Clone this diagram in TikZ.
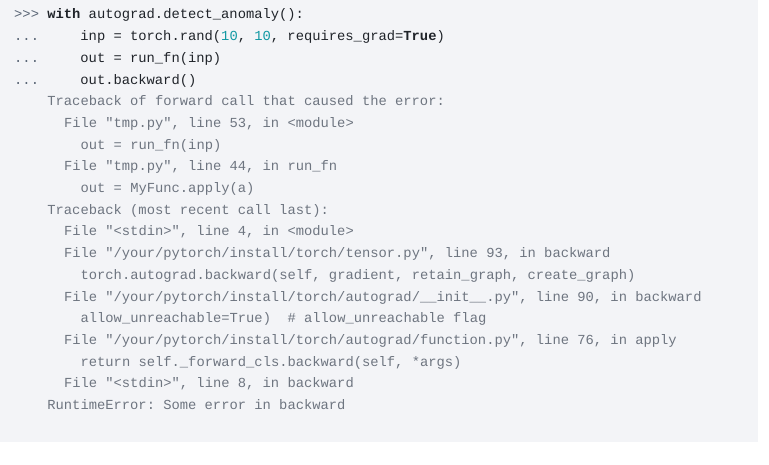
\documentclass[tikz,border=0pt]{standalone}
\usepackage{fontspec}
\setmonofont{Liberation Mono}
\definecolor{panel}{HTML}{F3F4F7}
\definecolor{ink}{HTML}{1F2329}
\definecolor{dim}{HTML}{6E7580}
\definecolor{prompt}{HTML}{5A6676}
\definecolor{num}{HTML}{1098A3}
\begin{document}
\begin{tikzpicture}[x=1pt,y=1pt]
    \tikzset{code/.style = {anchor=base west,inner sep=0pt,font=\ttfamily\fontsize{13.8}{16}\selectfont,text=ink}}
    \tikzset{outtext/.style = {code,text=dim}}
    \useasboundingbox (0,0) rectangle (769,464);
    \fill[panel] (0,22) rectangle (758,464);
    \node[code] (l1) at (14,445) {\textcolor{prompt}{>>>} \textbf{with} autograd.detect\_anomaly():};
    \node[code] (l2) at (14,423.3) {\textcolor{prompt}{...}\ \ \ \ \ inp = torch.rand(\textcolor{num}{10}, \textcolor{num}{10}, requires\_grad=\textbf{True})};
    \node[code] (l3) at (14,401.6) {\textcolor{prompt}{...}\ \ \ \ \ out = run\_fn(inp)};
    \node[code] (l4) at (14,379.9) {\textcolor{prompt}{...}\ \ \ \ \ out.backward()};
    \node[outtext] (l5) at (47.2,358.2) {Traceback of forward call that caused the error:};
    \node[outtext] (l6) at (63.8,336.5) {File "tmp.py", line 53, in <module>};
    \node[outtext] (l7) at (80.4,314.8) {out = run\_fn(inp)};
    \node[outtext] (l8) at (63.8,293.1) {File "tmp.py", line 44, in run\_fn};
    \node[outtext] (l9) at (80.4,271.4) {out = MyFunc.apply(a)};
    \node[outtext] (l10) at (47.2,249.7) {Traceback (most recent call last):};
    \node[outtext] (l11) at (63.8,228) {File "<stdin>", line 4, in <module>};
    \node[outtext] (l12) at (63.8,206.3) {File "/your/pytorch/install/torch/tensor.py", line 93, in backward};
    \node[outtext] (l13) at (80.4,184.6) {torch.autograd.backward(self, gradient, retain\_graph, create\_graph)};
    \node[outtext] (l14) at (63.8,162.9) {File "/your/pytorch/install/torch/autograd/\_\_init\_\_.py", line 90, in backward};
    \node[outtext] (l15) at (80.4,141.2) {allow\_unreachable=True)\ \ \# allow\_unreachable flag};
    \node[outtext] (l16) at (63.8,119.5) {File "/your/pytorch/install/torch/autograd/function.py", line 76, in apply};
    \node[outtext] (l17) at (80.4,97.8) {return self.\_forward\_cls.backward(self, *args)};
    \node[outtext] (l18) at (63.8,76.1) {File "<stdin>", line 8, in backward};
    \node[outtext] (l19) at (47.2,54.4) {RuntimeError: Some error in backward};
\end{tikzpicture}
\end{document}
